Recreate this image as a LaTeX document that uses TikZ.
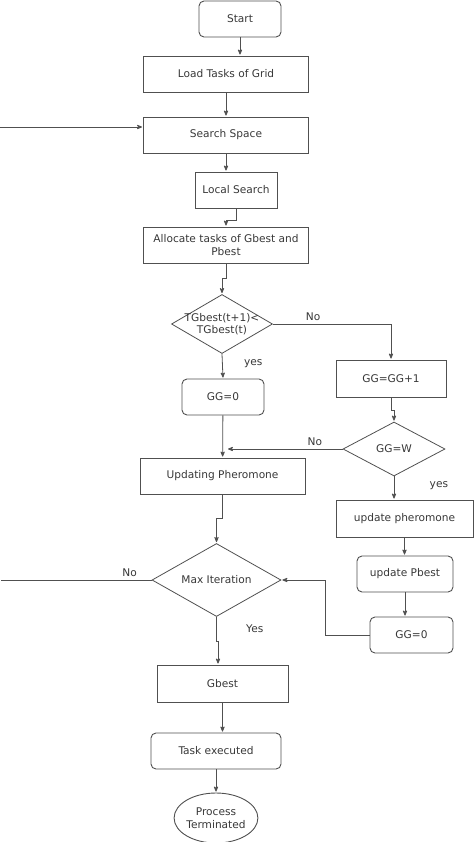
\documentclass[tikz,border=0pt]{standalone}
\usepackage{fontspec}
\setsansfont{DejaVu Sans}
\usepackage{tikz}
\usetikzlibrary{shapes.geometric, arrows}
\definecolor{linegray}{RGB}{80,80,80}
\definecolor{textgray}{RGB}{55,55,55}

\begin{document}
\begin{tikzpicture}[x=1pt,y=-1pt,>=stealth',shorten >=1pt,color=linegray,line width=0.8pt,
	process node/.style={rectangle,draw=linegray,line width=0.9pt,text=textgray,inner sep=0pt,align=center,font=\sffamily\fontsize{10.6}{12.6}\selectfont},
	round node/.style={process node,rounded corners=5pt},
	decision node/.style={diamond,draw=linegray,line width=0.8pt,inner sep=0pt},
	end node/.style={process node,ellipse},
	edge label/.style={text=textgray,font=\sffamily\fontsize{10.6}{12.6}\selectfont}]
	\useasboundingbox (0,0) rectangle (474,842);
	% main column
	\node[round node,minimum width=82pt,minimum height=36pt] (start) at (240,19) {Start};
	\node[process node,minimum width=165pt,minimum height=36pt] (load) at (226,74) {Load Tasks of Grid};
	\node[process node,minimum width=165pt,minimum height=36pt] (search) at (226,135) {Search Space};
	\node[process node,minimum width=82pt,minimum height=36pt] (local) at (236,190) {Local Search};
	\node[process node,minimum width=165pt,minimum height=36pt] (alloc) at (226,245) {Allocate tasks of Gbest and\\Pbest};
	\node[decision node,minimum width=101pt,minimum height=59pt,label={[edge label,align=center]center:TGbest(t+1)<\\TGbest(t)}] (tg) at (222,324) {};
	\node[round node,minimum width=82pt,minimum height=36pt] (gg0a) at (223,397) {GG=0};
	\node[process node,minimum width=165pt,minimum height=36pt] (updph) at (222.5,476) {Updating Pheromone};
	\node[decision node,minimum width=129pt,minimum height=73pt,label={[edge label]center:Max Iteration}] (max) at (216.5,580) {};
	\node[process node,minimum width=131pt,minimum height=37pt] (gbest) at (222.5,683.5) {Gbest};
	\node[round node,minimum width=130pt,minimum height=36pt] (task) at (216,751) {Task executed};
	\node[end node,minimum width=82pt,minimum height=50pt] (term) at (216,818) {Process\\Terminated};
	% right column
	\node[process node,minimum width=110pt,minimum height=37pt] (gginc) at (391,378.5) {GG=GG+1};
	\node[decision node,minimum width=102pt,minimum height=54pt,label={[edge label]center:GG=W}] (ggw) at (394,449) {};
	\node[process node,minimum width=137pt,minimum height=37pt] (updpher) at (404.5,518.5) {update pheromone};
	\node[round node,minimum width=96pt,minimum height=36pt] (pbest) at (405,574) {update Pbest};
	\node[round node,minimum width=83pt,minimum height=36pt] (gg0b) at (411.5,635) {GG=0};
	% loose ends on the left
	\coordinate (inleft) at (0,127);
	\coordinate (outleft) at (0,580);

	\draw[->] (start.south) -- (start.south |- load.north);
	\draw[->] (load) -- (search);
	\draw[->] (inleft) -- (inleft -| search.west);
	\draw[->] (search.south) -- (search.south |- local.north);
	\draw[->] (local.south) -- ++(0,12) -| (alloc.north);
	\draw[->] (alloc.south) -- ++(0,15) -| (tg.north);
	\draw[->] (tg.east) -| node[edge label,pos=0.17,above] {No} (gginc.north);
	\draw[->] (tg.south) -- node[edge label,pos=0.4,right=18pt] {yes} (gg0a.north);
	\draw[->] (gg0a) -- (updph);
	\draw[->] (gginc.south) -- ++(0,13) -| (ggw.north);
	\draw[->] (ggw.west) -- node[edge label,pos=0.24,above] {No} ([xshift=4pt]ggw.west -| gg0a.south);
	\draw[->] (ggw.south) -- node[edge label,pos=0.4,right=32pt] {yes} (ggw.south |- updpher.north);
	\draw[->] (updph.south) -- ++(0,24) -| (max.north);
	\draw[->] (updpher.south) -- (updpher.south |- pbest.north);
	\draw[->] (pbest.south) -- (pbest.south |- gg0b.north);
	\draw[->] (gg0b.west) -- ++(-44,0) |- (max.east);
	\draw (max.west) -- node[edge label,pos=0.145,above] {No} (outleft);
	\draw[->] (max.south) -- node[edge label,midway,right=26pt] {Yes} ++(0,24) -| ([xshift=-4.5pt]gbest.north);
	\draw[->] (gbest.south) -- (gbest.south |- task.north);
	\draw[->] (task) -- (term);
\end{tikzpicture}
\end{document}
